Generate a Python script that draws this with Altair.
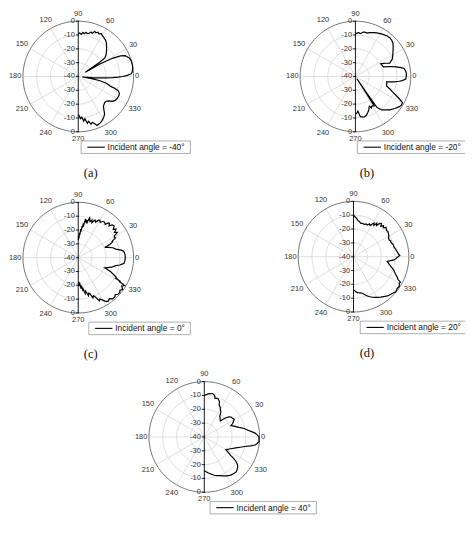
import altair as alt
import pandas as pd

# ---------------- data ----------------
ang_a = [90, 88, 86, 84, 82, 80, 78, 76, 74, 72, 70, 68, 66, 64, 62, 60, 58, 56, 53, 50,
         46, 42, 38, 35, 33.5, 32.5, 31.5, 30, 28, 26, 24, 22, 20, 17, 14, 11, 8, 5, 3, 1,
         0, -1, -2, -3, -4, -5, -7, -9, -11, -13, -15, -17, -18, -20, -23, -26, -30, -33, -36, -39,
         -41.5, -44, -47, -50, -53, -55, -58, -62, -65, -67, -69, -71, -73, -75, -77, -79, -81, -83, -85, -87,
         -89, -90]
db_a = [-9, -8.5, -9.5, -8, -8.8, -7.5, -8.3, -7.8, -6.5, -7.2, -5.2, -6, -5, -5.8, -4.8, -5.5, -6, -6.5, -7.2, -8.3,
        -10.5, -12.5, -14.5, -16.5, -22, -30, -34, -22, -12, -6, -3, -1.8, -0.8, -0.1, 0, 0, -0.3, -0.8, -1.6, -5,
        -8, -11, -15, -20, -25, -30, -37, -30, -24, -20, -17.5, -15.5, -12, -9, -7.7, -7.5, -7.8, -8.2, -9.5, -12,
        -13, -13.2, -12.6, -11.7, -9, -6.8, -5.3, -3.7, -2.8, -2.5, -2, -4, -5.3, -4.2, -6.8, -5.5, -9, -7.5, -10.5, -9.5,
        -12, -11.5]

ang_b = [90, 86, 83, 80, 78, 75, 72, 69, 67, 64, 60, 56, 52, 48.5, 45, 41.7, 38, 34, 30, 25.4,
         21.3, 24, 26.6, 22, 18.8, 15.5, 13.2, 11, 9.3, 6, 3.6, 0, -2.9, -5, -6.2, -8, -9.8, -13, -17, -20,
         -23, -25, -26.9, -29, -32, -34.5, -39, -44.2, -51.7, -55.2, -55.8, -56.2, -56.8, -57.5, -60, -61.7, -63, -64.5, -66, -68,
         -71.4, -74, -77.5, -80, -83, -84.5, -86, -88, -90]
db_b = [-9, -8.2, -8.8, -7.4, -7.2, -7.5, -6.6, -6.0, -5.6, -4.9, -4.2, -3.5, -2.8, -2.5, -2.9, -3.7, -5.3, -7.2, -8.8, -10.5,
        -13.4, -16.5, -19.5, -19, -18.6, -13, -9.8, -6.5, -4.4, -3.4, -3.1, -3.2, -3.6, -6, -8.1, -12, -17.1, -16.8, -16.4, -13.5,
        -10.5, -7.5, -4.4, -1.1, -0.8, -1.5, -3.2, -5.4, -9.2, -12.6, -25, -38, -25, -14.8, -15.5, -15.4, -14.5, -16.2, -15.8, -14,
        -12.3, -11, -10, -10.4, -10.7, -13, -14.9, -13.5, -12.6]

ang_c = [90, 89, 88, 87, 86, 85, 84, 83, 82, 81.6, 80.5, 79.3, 78, 77, 76, 75.4, 74, 72, 70, 68.6,
         67, 65.8, 64, 62, 60, 58, 56, 53.5, 51, 49, 47.8, 46, 44, 41.5, 39, 37, 35, 33, 31, 29.9,
         28, 26, 24.8, 23, 21, 19, 16, 12.9, 10, 8, 4, 0, -4, -7.2, -10, -12, -16, -21, -22.5, -23.6,
         -25, -26, -27, -28, -28.7, -29.4, -30, -31, -33, -35.8, -38, -40, -42.7, -45, -47, -50.3, -53, -55, -57.5, -60,
         -62.4, -64, -66, -68.2, -70, -72, -73.6, -75, -77.6, -79, -81, -82, -83.5, -85, -86.5, -88, -89, -90]
db_c = [-27, -24, -26, -22, -23.5, -19.3, -21, -17, -18, -14.9, -16, -11.5, -14, -12, -14.5, -12.7, -10.1, -12.5, -11, -12.9,
        -11, -10.3, -11.5, -9.5, -8.7, -10, -8.3, -8, -9, -6.8, -6.5, -8, -5.8, -5.3, -7.5, -5.8, -8, -6.3, -9.5, -10,
        -9.5, -12.8, -12.6, -15, -19.5, -17, -14, -12.2, -8.5, -6.8, -6.1, -6, -6.2, -6.8, -9.5, -12.3, -15, -19.5, -16.5, -14.2,
        -12.5, -11, -9.6, -8.5, -9, -4.9, -6, -0.9, -2.5, -0.5, -1.8, -0.8, -1, -2.2, -1.2, -1.2, -2.8, -1.8, -2.4, -4.5,
        -6.3, -5.2, -8.5, -10.3, -9, -12.5, -13.2, -11.5, -15.3, -13.5, -17, -15.5, -19.6, -17.5, -21, -19.5, -22.5, -21]

ang_d = [90, 87, 85, 83.5, 80, 77.6, 75, 72, 69, 66.7, 64, 62, 60.4, 58.5, 57, 55.2, 53.5, 52, 50, 48,
         46, 44, 42, 41.1, 38.5, 36.5, 33, 30, 28.6, 25, 23, 20.9, 17, 13.2, 10, 8, 6.2, 3.5, 1.5, 0.8,
         -1, -3, -4.5, -6, -8, -10, -12.5, -16, -19.4, -22, -25.2, -27, -28.4, -30, -33, -36, -39.6, -43, -46.7, -49,
         -51.9, -56, -60.3, -64, -69, -72, -76.3, -80, -83.4, -86, -88, -90]
db_d = [-10, -11.5, -12.5, -13.4, -14.5, -15.3, -15, -15.4, -14.6, -15, -13.5, -14.5, -13, -11.5, -13, -10.6, -12, -9.5, -8.5, -10.5,
        -8.8, -10, -8.4, -8.6, -9.5, -9.1, -9.8, -10.5, -11.2, -11.5, -10.8, -11, -10, -9.8, -9, -8.6, -8.1, -7.5, -6.5, -7.1,
        -8.5, -9.5, -10.5, -13, -15.4, -14.5, -13.4, -11, -8.8, -7.5, -5, -4, -1.4, -1.8, -0.5, -1, -0.3, -1.3, -2, -2.5,
        -3.5, -4.8, -6.2, -7.2, -9.2, -10.5, -12.8, -13.5, -13.9, -14.5, -15.5, -15.9]

ang_e = [90, 86, 82.4, 79, 77.2, 75.5, 74.6, 72, 70, 68, 66.5, 65.3, 62, 59.5, 57, 55, 53.6, 50, 47, 45,
         43, 41.4, 39, 36.8, 33.5, 30.6, 28, 25, 22.9, 19, 15.5, 12, 8.2, 6, 4.3, 2, 0, -2.5, -5, -7,
         -9, -11, -13.2, -16, -19.1, -24, -30.5, -33, -34.9, -36, -37.4, -39.5, -42.1, -45, -47.7, -51, -55.3, -60, -64.6, -69,
         -74.6, -79, -83.4, -87, -90]
db_e = [-10, -9, -8.4, -8.2, -8.6, -9.5, -11, -10.6, -10.8, -11.5, -12.5, -14.4, -15.5, -17, -18, -19.5, -21.2, -22.2, -23, -23.6,
        -21, -19, -17, -15.9, -15.5, -14.9, -16, -17.5, -19.1, -16.5, -14, -10.5, -7.6, -5.2, -3.2, -1.5, -0.5, -0.4, -0.3, -1.5,
        -2.8, -6, -9.8, -13, -15.9, -19, -21.9, -19, -16.8, -14, -11.4, -9, -7.4, -6.5, -5.8, -6, -6.4, -7.5, -8.9, -10,
        -11.1, -12.5, -13.8, -14.8, -15.6]

legend_labels = ["Incident angle = -40°", "Incident angle = -20°", "Incident angle = 0°",
                 "Incident angle = 20°", "Incident angle = 40°"]
captions = ["(a)", "(b)", "(c)", "(d)", ""]

ring_levels = [-30, -20, -10]
outer_level = 0
radial_ticks = [0, -10, -20, -30, -40]
angle_ticks = list(range(0, 360, 30))

# ---------------- layout constants ----------------
S = 458 / 474          # page scale
R_REF = 57.5           # outer circle radius (reference px)
U = 40.0 / R_REF       # data units per reference px
GRID = "#cfcfcf"
FONT = "Liberation Sans"
TXT = "#333333"


def panel(ang, db, label, caption, W, H, cx, cy, box_left, cap_off):
    xs = alt.Scale(domain=[-cx * U, (W - cx) * U], nice=False, zero=False)
    ys = alt.Scale(domain=[-(H - cy) * U, cy * U], nice=False, zero=False)

    def XF(f):
        return alt.X(f, type="quantitative", scale=xs, axis=None)

    def YF(f):
        return alt.Y(f, type="quantitative", scale=ys, axis=None)

    ring_df = pd.DataFrame([{"level": l, "a": a}
                            for l in ring_levels + [outer_level] for a in range(0, 361, 3)])
    rings = alt.Chart(ring_df).transform_calculate(
        x="(datum.level + 40) * cos(datum.a * PI / 180)",
        y="(datum.level + 40) * sin(datum.a * PI / 180)")
    inner = rings.transform_filter(f"datum.level < {outer_level}").mark_line(
        color=GRID, strokeWidth=0.7).encode(x=XF("x"), y=YF("y"), detail="level:N", order="a:Q")
    outer = rings.transform_filter(f"datum.level == {outer_level}").mark_line(
        color="#666666", strokeWidth=0.9).encode(x=XF("x"), y=YF("y"), detail="level:N", order="a:Q")

    spoke_df = pd.DataFrame({"a": [a for a in angle_ticks if a % 180 != 90]})
    spokes = alt.Chart(spoke_df).transform_calculate(
        x0="0", y0="0",
        xe="40 * cos(datum.a * PI / 180)",
        ye="40 * sin(datum.a * PI / 180)").mark_rule(color=GRID, strokeWidth=0.7).encode(
        x=XF("x0"), y=YF("y0"), x2=alt.X2("xe:Q"), y2=alt.Y2("ye:Q"))

    axis_df = pd.DataFrame({"x": [0.0], "y1": [-40.0], "y2": [40.0]})
    axis_line = alt.Chart(axis_df).mark_rule(color="black", strokeWidth=0.9).encode(
        x=XF("x"), y=YF("y1"), y2=alt.Y2("y2:Q"))

    rows = []
    for v in radial_ticks:
        rows.append({"p": v + 40, "t": str(v)})
        if v != -40:
            rows.append({"p": -(v + 40), "t": str(v)})
    rad_df = pd.DataFrame(rows)
    rad_df["xa"] = -2.5 * U
    rad_df["xb"] = 0.8 * U
    rad_df["xl"] = -3.5 * U
    ticks = alt.Chart(rad_df).mark_rule(color="black", strokeWidth=0.8).encode(
        x=XF("xa"), x2=alt.X2("xb:Q"), y=YF("p"))
    rad_labels = alt.Chart(rad_df).mark_text(
        align="right", baseline="middle", fontSize=7.5, font=FONT, fill=TXT).encode(
        x=XF("xl"), y=YF("p"), text="t:N")

    ang_df = pd.DataFrame({"a": angle_ticks, "t": [str(a) for a in angle_ticks]})
    ang_labels = alt.Chart(ang_df).transform_calculate(
        rl=f"({R_REF} + 1.5 + 2.2 * length(datum.t) * abs(cos(datum.a * PI / 180))"
           f" + 6.0 * abs(sin(datum.a * PI / 180))) * {U}",
    ).transform_calculate(
        x="datum.rl * cos(datum.a * PI / 180)",
        y="datum.rl * sin(datum.a * PI / 180)").mark_text(
        align="center", baseline="middle", fontSize=7.5, font=FONT, fill=TXT).encode(
        x=XF("x"), y=YF("y"), text="t:N")

    cdf = pd.DataFrame({"i": list(range(len(ang))), "ang": ang, "db": db})
    curve = alt.Chart(cdf).transform_calculate(
        r="max(datum.db, -40) + 40").transform_calculate(
        x="datum.r * cos(datum.ang * PI / 180)",
        y="datum.r * sin(datum.ang * PI / 180)").mark_line(
        color="black", strokeWidth=1.2).encode(x=XF("x"), y=YF("y"), order="i:Q")

    leg_df = pd.DataFrame({
        "bx1": [box_left * U], "bx2": [116.5 * U], "by1": [-67 * U], "by2": [-80 * U],
        "lx1": [(box_left + 6.5) * U], "lx2": [(box_left + 24.5) * U], "ly": [-73.5 * U],
        "tx": [(box_left + 27.5) * U], "cx": [cap_off * U], "cy": [-100 * U],
    })
    box = alt.Chart(leg_df).mark_rect(fill="white", stroke="#8a8a8a", strokeWidth=0.7, clip=True).encode(
        x=XF("bx1"), x2=alt.X2("bx2:Q"), y=YF("by1"), y2=alt.Y2("by2:Q"))
    sample = alt.Chart(leg_df).mark_rule(color="black", strokeWidth=1.1).encode(
        x=XF("lx1"), x2=alt.X2("lx2:Q"), y=YF("ly"))
    ltext = alt.Chart(leg_df).mark_text(
        text=label, align="left", baseline="middle", fontSize=8.4, font=FONT, fill="#111111").encode(
        x=XF("tx"), y=YF("ly"))

    layers = [inner, spokes, outer, axis_line, ticks, rad_labels, ang_labels, curve, box, sample, ltext]
    if caption:
        cap = alt.Chart(leg_df).mark_text(
            text=caption, align="center", baseline="middle", fontSize=12.6,
            font="Liberation Serif", fill="#111111").encode(
            x=XF("cx"), y=YF("cy"))
        layers.append(cap)
    return alt.layer(*layers).properties(width=W * S, height=H * S)


pa = panel(ang_a, db_a, legend_labels[0], captions[0], 240, 186, 72, 69, 3, 13)
pb = panel(ang_b, db_b, legend_labels[1], captions[1], 186, 186, 72, 69, 2, 12)
pc = panel(ang_c, db_c, legend_labels[2], captions[2], 240, 186, 72, 70, 11, 13)
pdd = panel(ang_d, db_d, legend_labels[3], captions[3], 186, 186, 70, 69, 7, 14)
pe = panel(ang_e, db_e, legend_labels[4], captions[4], 330, 152, 203, 68, 6, 13)

row1 = alt.hconcat(pa, pb, spacing=48 * S, bounds="flush")
row2 = alt.hconcat(pc, pdd, spacing=48 * S, bounds="flush")
chart = alt.vconcat(row1, row2, pe, spacing=0).properties(
    padding=0, background="white").configure_view(strokeWidth=0)

chart.save("out.html", embed_options={"renderer": "svg", "actions": False})
